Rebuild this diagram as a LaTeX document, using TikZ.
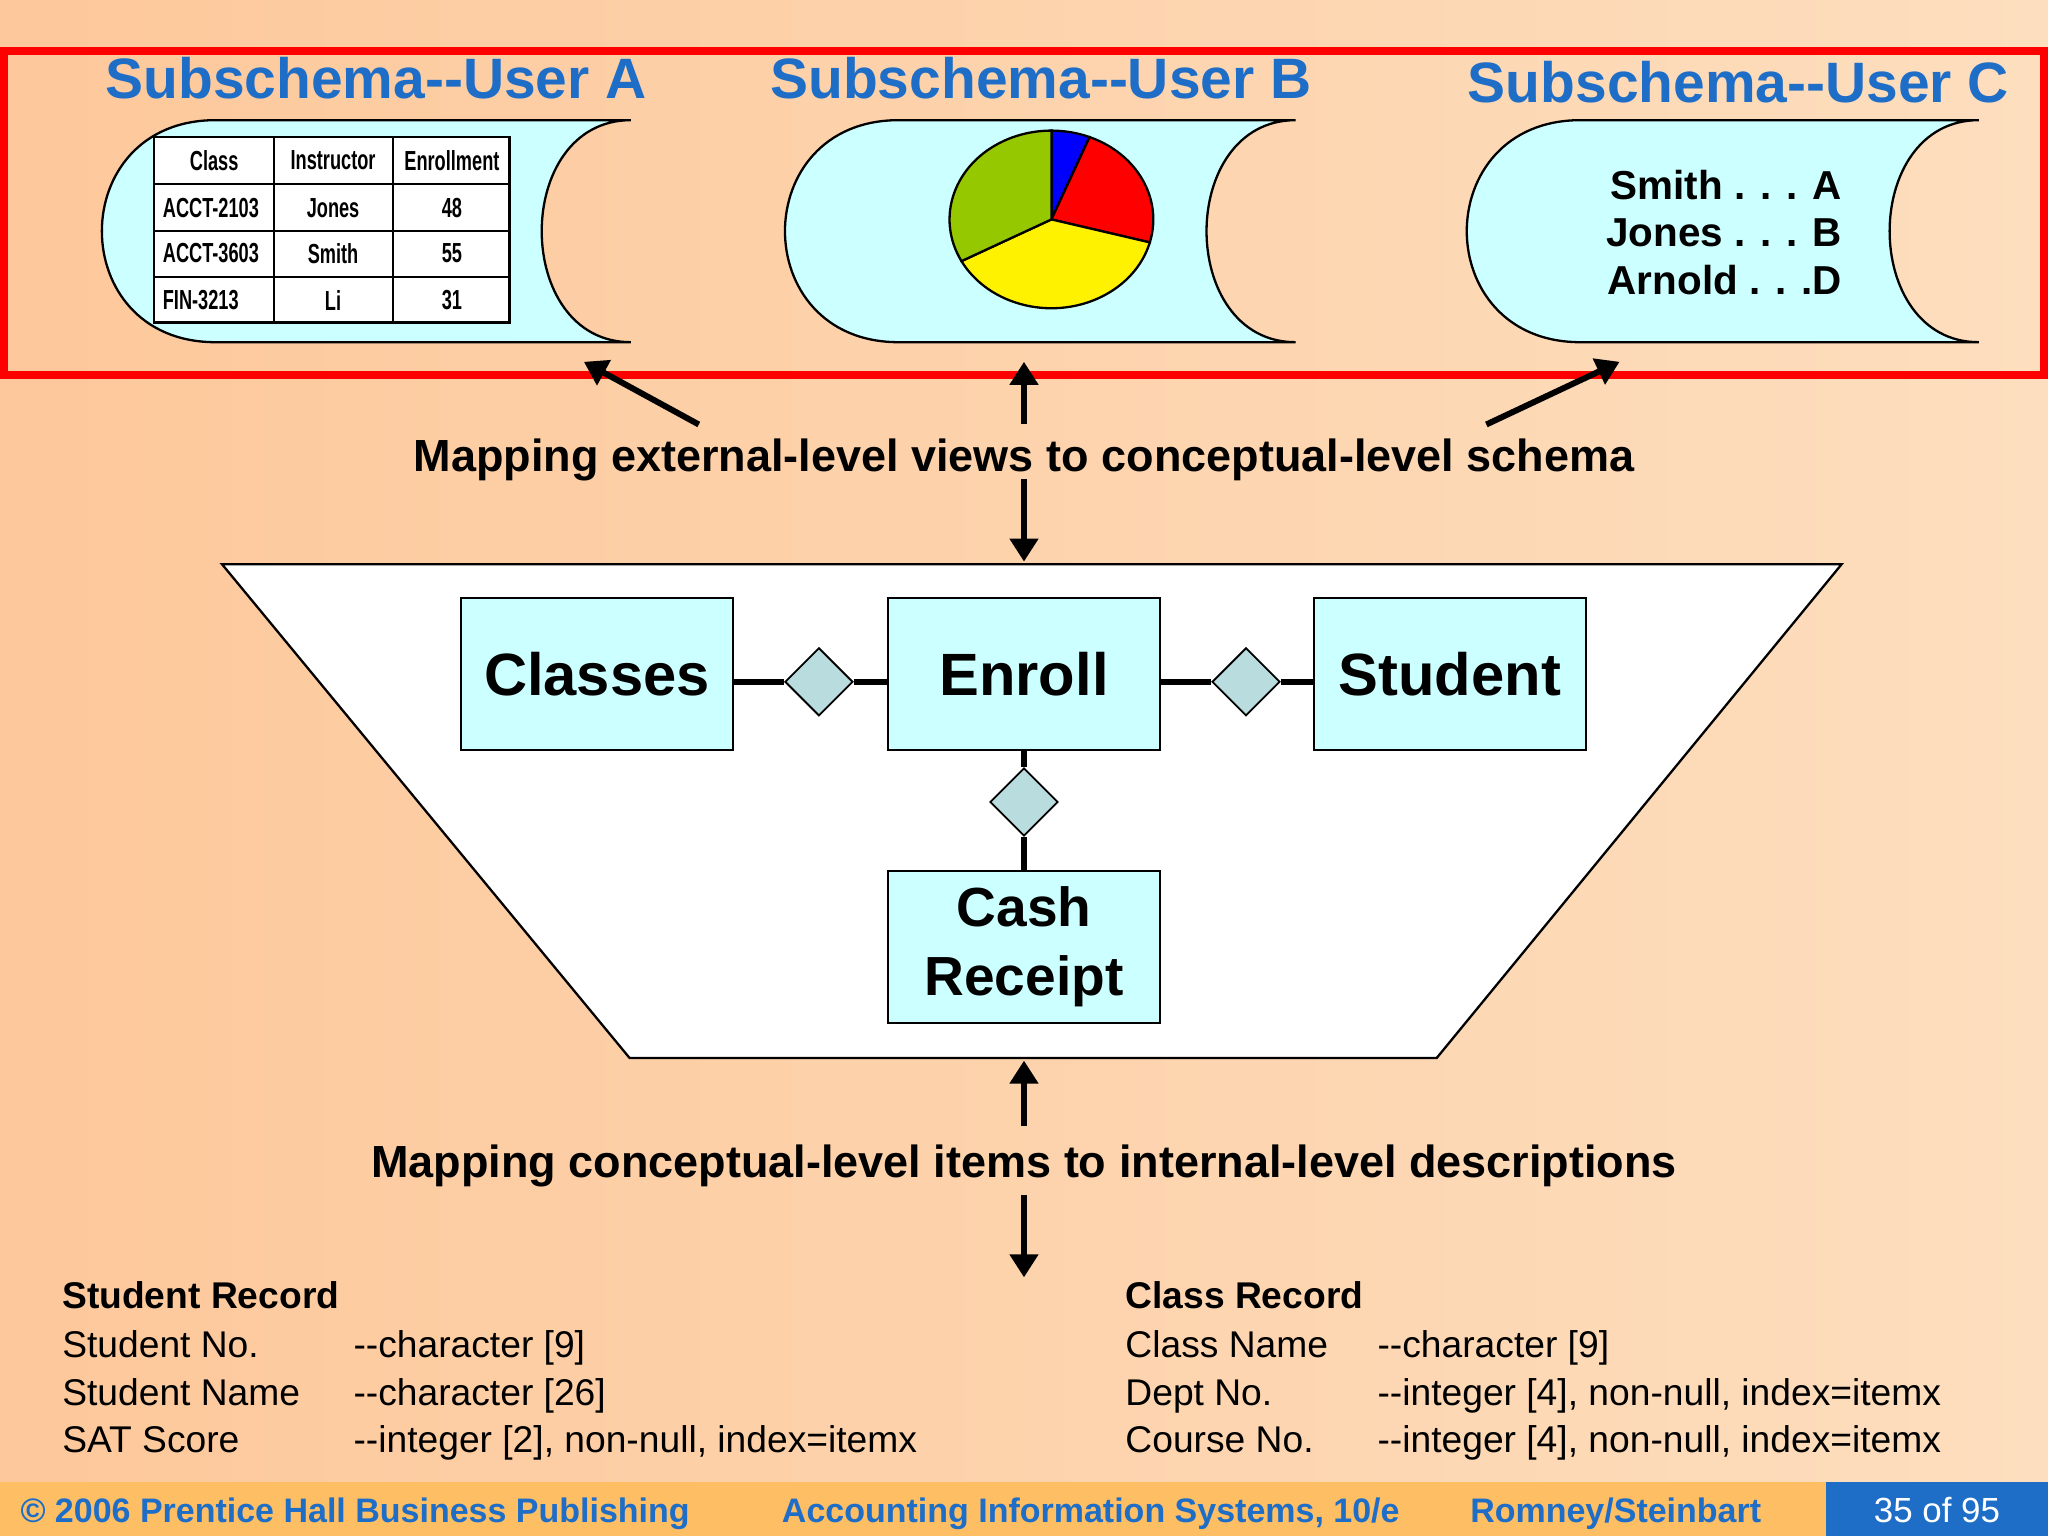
\documentclass[tikz,border=0pt]{standalone}
\usepackage{fontspec}
\setmainfont{Liberation Sans}
\usetikzlibrary{shapes.geometric,arrows.meta}
\definecolor{bgL}{RGB}{253,200,155}
\definecolor{bgR}{RGB}{253,222,190}
\definecolor{cyanf}{RGB}{204,255,255}
\definecolor{titleblue}{RGB}{30,110,200}
\definecolor{foot}{RGB}{253,190,100}
\definecolor{footblue}{RGB}{30,110,200}
\definecolor{diam}{RGB}{185,220,222}
\definecolor{boxf}{RGB}{204,255,255}
\newcommand{\fs}[1]{\fontsize{#1}{#1}\selectfont}
\newcommand{\nar}[1]{\scalebox{0.66}[1]{#1}}
\newcommand{\scrollpath}[2]{% left x, right x
 \path[scroll] (#2,92) -- ({#1+87},92) .. controls ({#1-29},92) and ({#1-29},262) .. ({#1+87},262) -- (#2,262) .. controls ({#2-91},262) and ({#2-91},92) .. (#2,92);}
\tikzset{
 scroll/.style={fill=cyanf,draw=black,line width=0.5pt},
 title/.style={text=titleblue,font=\bfseries\fs{12.4}},
 ent/.style={draw=black,fill=boxf,minimum width=2.08cm,minimum height=1.16cm,font=\bfseries\fs{13},align=center,inner sep=0pt},
 dia/.style={diamond,draw=black,fill=diam,minimum width=0.52cm,minimum height=0.52cm,inner sep=0pt},
 rel/.style={line width=1.4pt},
 arr/.style={line width=1.3pt,-{Triangle[length=5pt,width=6pt]}},
 map/.style={font=\bfseries\fs{9.8}},
 rec/.style={anchor=base west,inner sep=0pt,font=\fs{8.1}},
 tcell/.style={font=\bfseries\fs{6},anchor=center},
 foottxt/.style={text=footblue,inner sep=0pt,font=\bfseries\fs{7.4},anchor=base west}
}
\begin{document}
\begin{tikzpicture}[x=0.01cm,y=-0.01cm]
\useasboundingbox (0,0) rectangle (1568,1176);
\shade[left color=bgL,right color=bgR] (0,0) rectangle (1568,1176);
% scrolls
\scrollpath{78}{483}
\scrollpath{601}{992}
\scrollpath{1123}{1515}
\node[title] (ta) at (288,60) {Subschema{-}{-}User A};
\node[title] (tb) at (797,60) {Subschema{-}{-}User B};
\node[title] (tc) at (1331,63) {Subschema{-}{-}User C};
% table
\draw[fill=white,line width=0.5pt] (118,105) rectangle (390,247);
\foreach \yy in {141,177,212} \draw[line width=0.5pt] (118,\yy) -- (390,\yy);
\foreach \xx in {210,301} \draw[line width=0.5pt] (\xx,105) -- (\xx,247);
\node[tcell] (c11) at (164,123) {\nar{Class}};
\node[tcell] (c12) at (255,123) {\nar{Instructor}};
\node[tcell] (c13) at (346,123) {\nar{Enrollment}};
\node[tcell,anchor=west,inner sep=0pt] (c21) at (124,159) {\nar{ACCT-2103}};
\node[tcell] (c22) at (255,159) {\nar{Jones}};
\node[tcell] (c23) at (346,159) {\nar{48}};
\node[tcell,anchor=west,inner sep=0pt] (c31) at (124,194) {\nar{ACCT-3603}};
\node[tcell] (c32) at (255,194) {\nar{Smith}};
\node[tcell] (c33) at (346,194) {\nar{55}};
\node[tcell,anchor=west,inner sep=0pt] (c41) at (124,230) {\nar{FIN-3213}};
\node[tcell] (c42) at (255,230) {\nar{Li}};
\node[tcell] (c43) at (346,230) {\nar{31}};
% pie
\begin{scope}[shift={(805,168)},y=0.01cm,line width=0.5pt]
 \filldraw[fill=blue] (0,0) -- (90:78 and 68) arc[start angle=90,end angle=68,x radius=78,y radius=68] -- cycle;
 \filldraw[fill=red] (0,0) -- (68:78 and 68) arc[start angle=68,end angle=-15,x radius=78,y radius=68] -- cycle;
 \filldraw[fill=yellow] (0,0) -- (-15:78 and 68) arc[start angle=-15,end angle=-152,x radius=78,y radius=68] -- cycle;
 \filldraw[fill={rgb,255:red,150;green,200;blue,0}] (0,0) -- (-152:78 and 68) arc[start angle=-152,end angle=-270,x radius=78,y radius=68] -- cycle;
\end{scope}
\node[font=\bfseries\fs{8.8},align=right] (ul) at (1320,178) {Smith . . . A\\[1.6pt]Jones . . . B\\[1.6pt]Arnold . . .D};
% red frame
\draw[red,line width=1.8pt] (3,39) rectangle (1565,287);
% mapping arrows
\node[map] (m1) at (784,352) {Mapping external-level views to conceptual-level schema};
\coordinate (a1) at (535,325); \coordinate (a1e) at (447,277);
\coordinate (a2) at (784,325); \coordinate (a2e) at (784,277);
\coordinate (a3) at (1138,325); \coordinate (a3e) at (1240,277);
\draw[arr] (a1) -- (a1e);
\draw[arr] (a2) -- (a2e);
\draw[arr] (a3) -- (a3e);
\coordinate (d1) at (784,367); \coordinate (d1e) at (784,430);
\draw[arr] (d1) -- (d1e);
% trapezoid
\draw[fill=white,line width=0.5pt] (170,432) -- (1410,432) -- (1100,810) -- (482,810) -- cycle;
\node[ent] (cl) at (457,516) {Classes};
\node[ent] (en) at (784,516) {Enroll};
\node[ent] (st) at (1110,516) {Student};
\node[ent,font=\bfseries\fs{12}] (cr) at (784,725) {Cash\\[3pt]Receipt};
\node[dia] (dA) at (627,522) {};
\node[dia] (dB) at (954,522) {};
\node[dia] (dC) at (784,614) {};
\draw[rel] (cl.east|-dA) -- (dA); \draw[rel] (dA) -- (en.west|-dA);
\draw[rel] (en.east|-dB) -- (dB); \draw[rel] (dB) -- (st.west|-dB);
\draw[rel] (en) -- (dC); \draw[rel] (dC) -- (cr);
% lower mapping
\coordinate (u1) at (784,862); \coordinate (u1e) at (784,812);
\draw[arr] (u1) -- (u1e);
\node[map] (m2) at (784,893) {Mapping conceptual-level items to internal-level descriptions};
\coordinate (d2) at (784,915); \coordinate (d2e) at (784,978);
\draw[arr] (d2) -- (d2e);
% records
\node[rec,font=\bfseries\fs{8.1}] (sr) at (47,1002) {Student Record};
\node[rec] (s1) at (47,1039) {Student No.};
\node[rec] (s2) at (47,1076) {Student Name};
\node[rec] (s3) at (47,1112) {SAT Score};
\node[rec] (s1b) at (270,1039) {{-}{-}character [9]};
\node[rec] (s2b) at (270,1076) {{-}{-}character [26]};
\node[rec] (s3b) at (270,1112) {{-}{-}integer [2], non-null, index=itemx};
\node[rec,font=\bfseries\fs{8.1}] (cr0) at (861,1002) {Class Record};
\node[rec] (r1) at (861,1039) {Class Name};
\node[rec] (r2) at (861,1076) {Dept No.};
\node[rec] (r3) at (861,1112) {Course No.};
\node[rec] (r1b) at (1054,1039) {{-}{-}character [9]};
\node[rec] (r2b) at (1054,1076) {{-}{-}integer [4], non-null, index=itemx};
\node[rec] (r3b) at (1054,1112) {{-}{-}integer [4], non-null, index=itemx};
% footer
\fill[foot] (0,1135) rectangle (1398,1176);
\fill[footblue] (1398,1135) rectangle (1568,1176);
\node[foottxt] (f1) at (15,1166) {© 2006 Prentice Hall Business Publishing};
\node[foottxt] (f2) at (598,1166) {Accounting Information Systems, 10/e};
\node[foottxt] (f3) at (1125,1166) {Romney/Steinbart};
\node[font=\fs{7.6},text=white,anchor=base] (f4) at (1483,1166) {35 of 95};
\end{tikzpicture}
\end{document}
